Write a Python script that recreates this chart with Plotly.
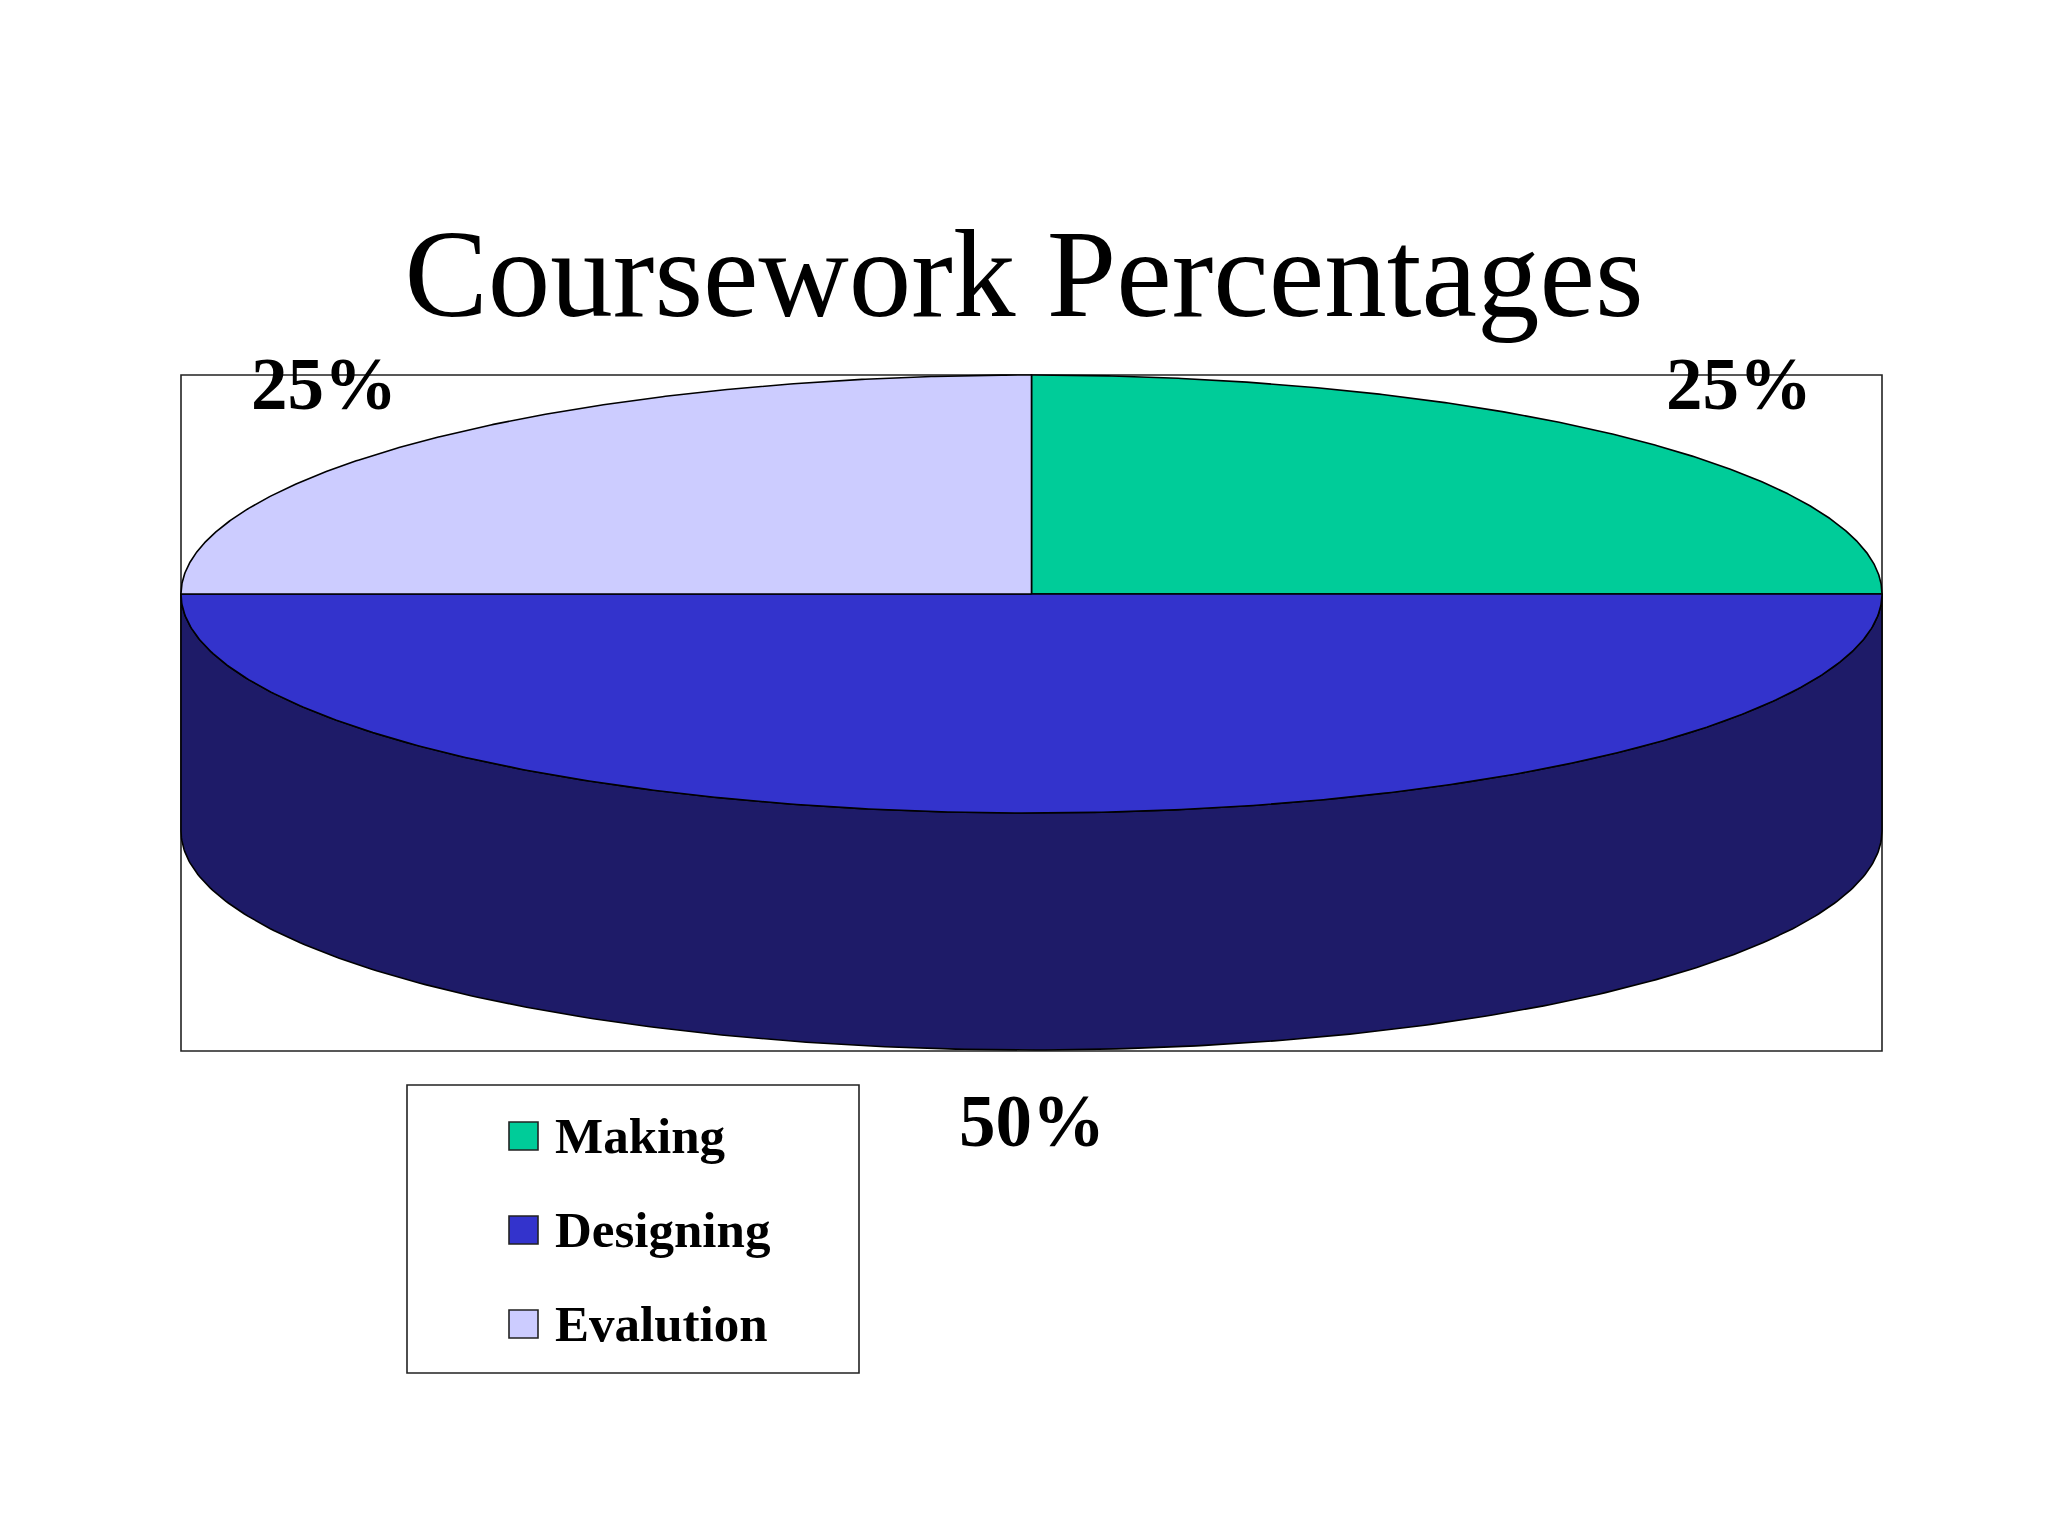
import numpy as np
import plotly.graph_objects as go

# ---- data ----
categories = ["Making", "Designing", "Evalution"]
percentages = [25, 50, 25]
label_texts = ["25%", "50%", "25%"]
title_text = "Coursework Percentages"

# ---- styles / layout ----
top_colors = ["#00CC99", "#3333CC", "#CCCCFF"]
side_colors = ["#00664D", "#1E1B68", "#66667F"]
W, H = 2048, 1536
CX, CY = 1031.5, 594.0        # centre of the top face (px)
RX, RY = 850.5, 219.0         # radii of the top face (px)
DEPTH = 237.0                 # thickness of the pie (px)
LRX, LRY = 1000.0, 296.0      # label ellipse
BOX = (181, 375, 1882, 1051)  # plot-area frame
FONT = "Liberation Serif, Times New Roman, serif"
EDGE = dict(color="black", width=1.6)


def ell(t_deg, dy=0.0, rx=RX, ry=RY):
    t = np.radians(t_deg)
    return CX + rx * np.cos(t), CY - ry * np.sin(t) + dy


fig = go.Figure()

# slice angles: start at 12 o'clock, go clockwise
total = float(sum(percentages))
starts, ends = [], []
cum = 0.0
for p in percentages:
    starts.append(90 - 360 * cum / total)
    cum += p
    ends.append(90 - 360 * cum / total)

# side walls (front half only: sin < 0)
for i, name in enumerate(categories):
    hi, lo = starts[i], ends[i]
    for k in range(-2, 2):
        f_lo, f_hi = -180 + 360 * k, 0 + 360 * k
        a, b = max(lo, f_lo), min(hi, f_hi)
        if b - a <= 1e-9:
            continue
        ts = np.linspace(a, b, 300)
        xt, yt = ell(ts)
        xb, yb = ell(ts[::-1], DEPTH)
        xs = np.concatenate([xt, xb, xt[:1]])
        ys = np.concatenate([yt, yb, yt[:1]])
        fig.add_trace(go.Scatter(
            x=xs, y=ys, mode="lines", fill="toself",
            fillcolor=side_colors[i], line=EDGE,
            hoverinfo="skip", showlegend=False))

# top faces
for i, name in enumerate(categories):
    ts = np.linspace(starts[i], ends[i], 400)
    xe, ye = ell(ts)
    xs = np.concatenate([[CX], xe, [CX]])
    ys = np.concatenate([[CY], ye, [CY]])
    fig.add_trace(go.Scatter(
        x=xs, y=ys, mode="lines", fill="toself",
        fillcolor=top_colors[i], line=EDGE,
        name=name, hoveron="fills",
        text=f"{name}: {percentages[i]}%", hoverinfo="text",
        showlegend=False))

# percentage labels, placed outside each slice along its mid angle
annotations = []
for i, txt in enumerate(label_texts):
    mid = (starts[i] + ends[i]) / 2
    lx, ly = ell(mid, rx=LRX, ry=LRY)
    if np.sin(np.radians(mid)) < 0:
        ly += DEPTH - 6
    annotations.append(dict(
        x=lx, y=ly, xref="x", yref="y", text=txt, showarrow=False,
        xanchor="center", yanchor="middle",
        font=dict(family=FONT, size=73, color="black", weight="bold")))

shapes = [dict(type="rect", xref="x", yref="y",
               x0=BOX[0], y0=BOX[1], x1=BOX[2], y1=BOX[3],
               line=dict(color="#222222", width=1.6), layer="below")]

# legend (drawn manually to match the box layout)
LEG = (407, 1085, 859, 1373)
shapes.append(dict(type="rect", xref="x", yref="y",
                   x0=LEG[0], y0=LEG[1], x1=LEG[2], y1=LEG[3],
                   line=dict(color="#222222", width=1.6),
                   fillcolor="white"))
row0, row_gap = 1136, 94
for i, name in enumerate(categories):
    cy = row0 + i * row_gap
    shapes.append(dict(type="rect", xref="x", yref="y",
                       x0=509, x1=538, y0=cy - 14, y1=cy + 14,
                       fillcolor=top_colors[i],
                       line=dict(color="#222222", width=1.6)))
    annotations.append(dict(
        x=553, y=cy, xref="x", yref="y", text=name, showarrow=False,
        xanchor="left", yanchor="middle",
        font=dict(family=FONT, size=51, color="black", weight="bold")))

fig.update_layout(
    width=W, height=H,
    margin=dict(l=0, r=0, t=0, b=0),
    paper_bgcolor="white", plot_bgcolor="white",
    title=dict(text=title_text, x=0.5, xanchor="center",
               y=1 - 272 / H, yanchor="middle",
               font=dict(family=FONT, size=125, color="black")),
    xaxis=dict(range=[0, W], visible=False, fixedrange=True),
    yaxis=dict(range=[H, 0], visible=False, fixedrange=True),
    shapes=shapes, annotations=annotations,
    showlegend=False,
)

fig.write_html("out.html",
               config={"displayModeBar": False},
               post_script="document.body.style.margin='0';"
                           "document.body.style.overflow='hidden';")
